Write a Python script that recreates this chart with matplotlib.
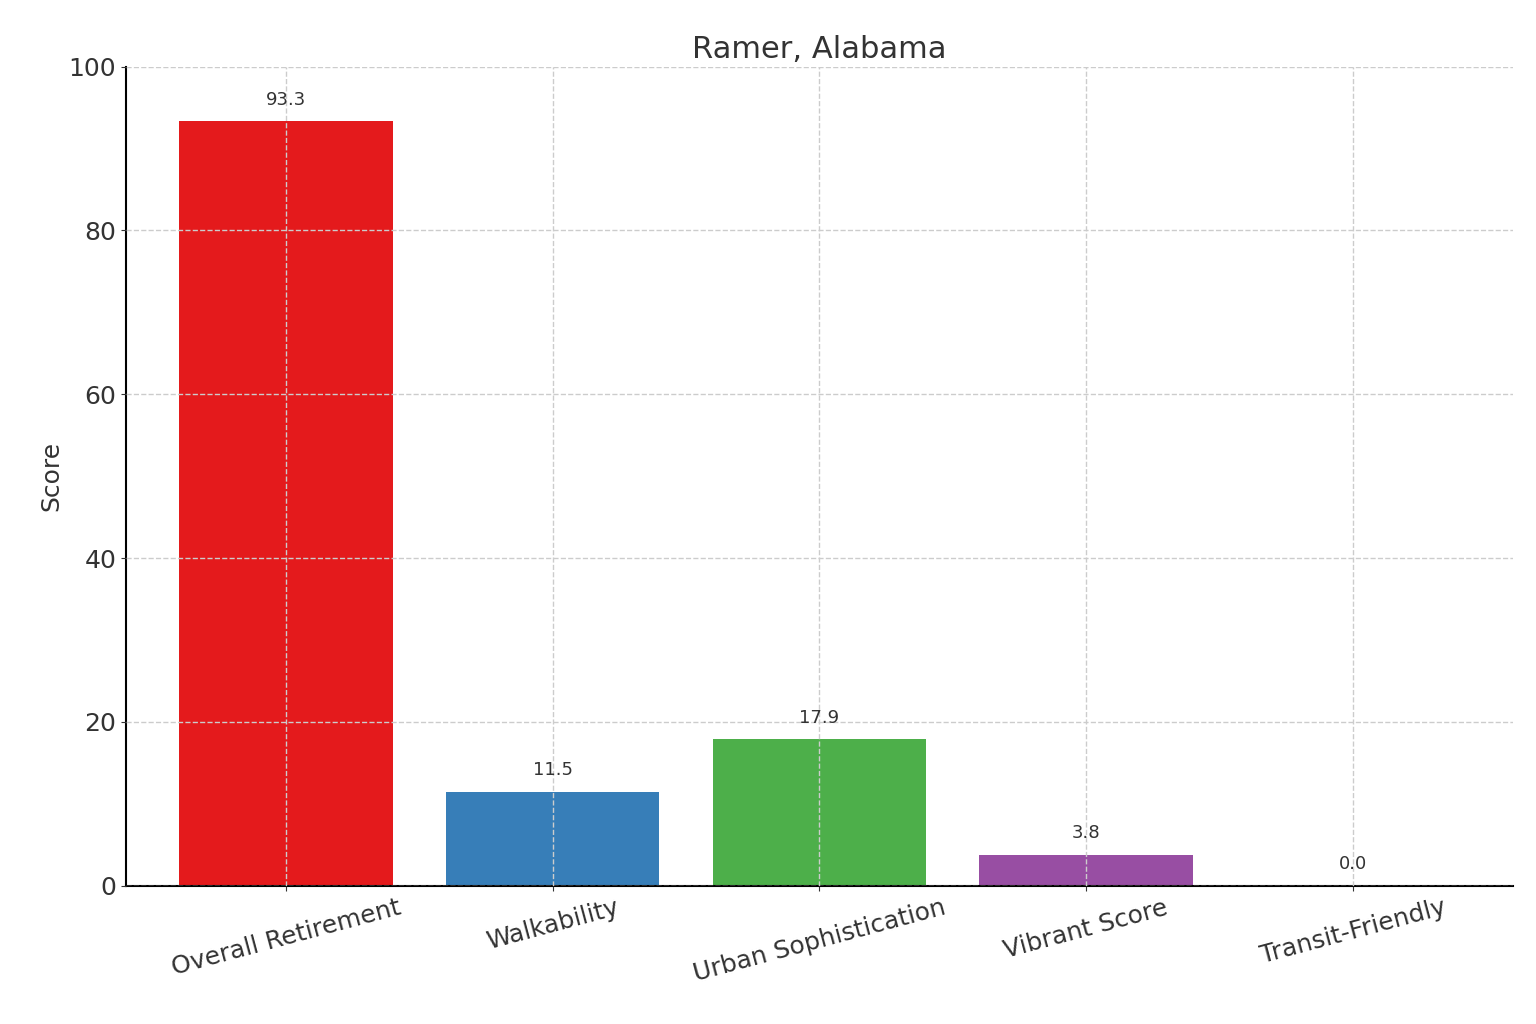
import matplotlib.pyplot as plt

categories = ["Overall Retirement", "Walkability", "Urban Sophistication", "Vibrant Score", "Transit-Friendly"]
values = [93.3, 11.5, 17.9, 3.8, 0.0]
colors = ["#e41a1c", "#377eb8", "#4daf4a", "#984ea3", "#ff7f00"]

fig, ax = plt.subplots(figsize=(15.36, 10.24), dpi=100)
fig.subplots_adjust(left=0.082, right=0.985, top=0.935, bottom=0.135)
bars = ax.bar(categories, values, color=colors, width=0.8)
for b, v in zip(bars, values):
    ax.text(b.get_x() + b.get_width() / 2, v + 1.5, f"{v:.1f}", ha="center", va="bottom", fontsize=13, color="#333333")
ax.set_ylim(0, 100)
ax.set_xlim(-0.6, 4.6)
ax.set_ylabel("Score", fontsize=18, color="#333333")
ax.set_title("Ramer, Alabama", fontsize=22, color="#333333")
ax.tick_params(axis="y", labelsize=18, colors="#333333")
ax.tick_params(axis="x", labelsize=18, colors="#333333")
plt.setp(ax.get_xticklabels(), rotation=15)
ax.grid(True, linestyle="--", color="#cccccc", linewidth=1)
ax.set_axisbelow(False)
for s in ["top", "right"]:
    ax.spines[s].set_visible(False)
ax.spines["left"].set_linewidth(1.5)
ax.spines["bottom"].set_linewidth(1.5)
fig.savefig("out.png")
